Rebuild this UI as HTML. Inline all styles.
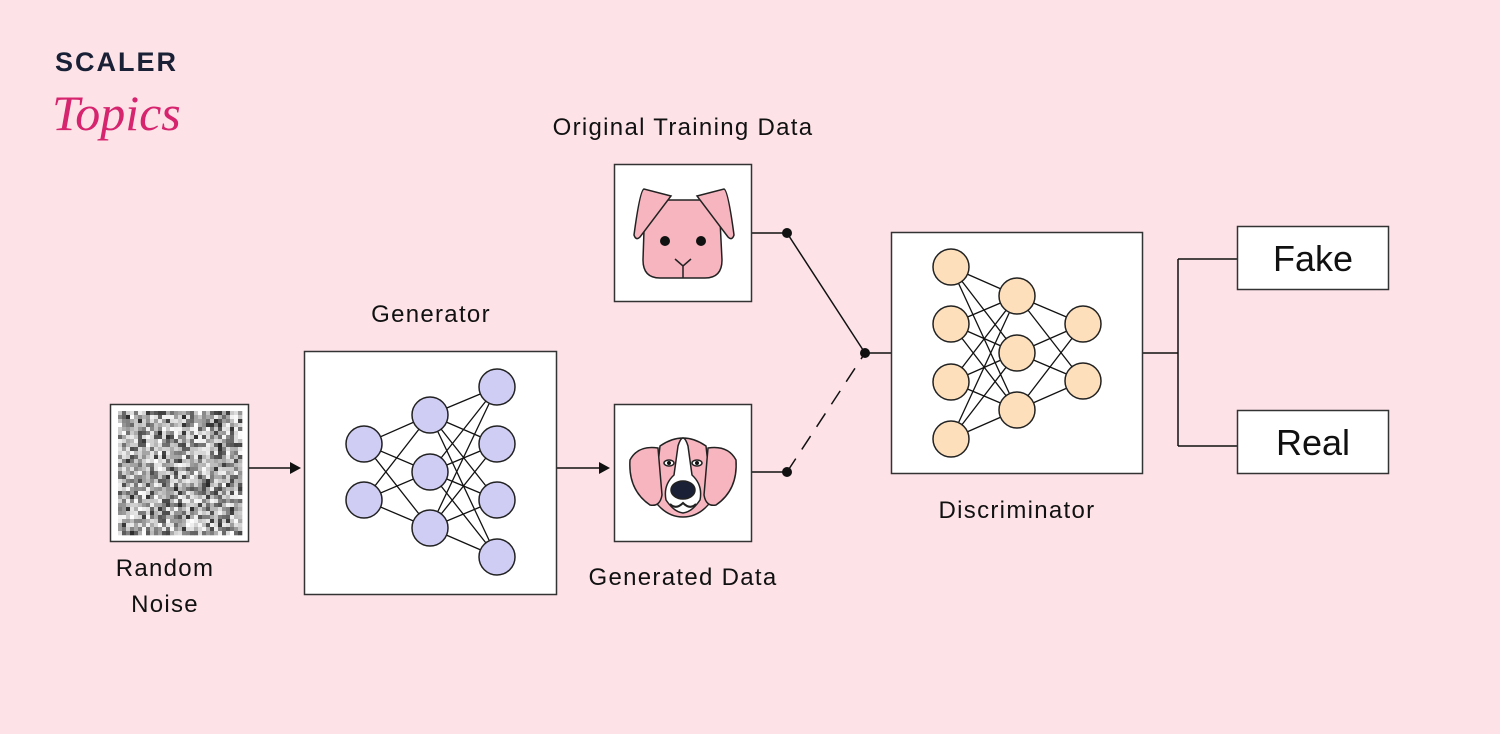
<!DOCTYPE html>
<html><head><meta charset="utf-8"><style>
html,body{margin:0;padding:0;background:#fde3e8;}
svg{display:block;}
text{font-family:"Liberation Sans","DejaVu Sans",sans-serif;fill:#111;}
.lb{letter-spacing:1.3px;}
</style></head><body>
<svg width="1500" height="734" viewBox="0 0 1500 734" xmlns="http://www.w3.org/2000/svg">
<rect width="1500" height="734" fill="#fde3e8"/>
<!-- logo -->
<text x="55" y="71" font-size="27" font-weight="bold" letter-spacing="2" style="fill:#1a2035">SCALER</text>
<text x="52" y="130" font-size="50" font-style="italic" style="fill:#d6246e;font-family:'Liberation Serif',serif">Topics</text>

<!-- noise box -->
<rect x="110.5" y="404.5" width="138" height="137" fill="#fff" stroke="#333" stroke-width="1.5"/>
<g id="noise"></g>
<!-- labels -->
<text class="lb" x="165" y="576" font-size="24" text-anchor="middle">Random</text>
<text class="lb" x="165" y="612" font-size="24" text-anchor="middle">Noise</text>
<text class="lb" x="431" y="322" font-size="24" text-anchor="middle">Generator</text>
<text class="lb" x="683" y="135" font-size="24" text-anchor="middle">Original Training Data</text>
<text class="lb" x="683" y="585" font-size="24" text-anchor="middle">Generated Data</text>
<text class="lb" x="1017" y="518" font-size="24" text-anchor="middle">Discriminator</text>

<!-- arrows -->
<g stroke="#111" stroke-width="1.5" fill="none">
<line x1="249" y1="468" x2="292" y2="468"/>
<line x1="556" y1="468" x2="601" y2="468"/>
<line x1="752" y1="233" x2="787" y2="233"/>
<line x1="787" y1="233" x2="865" y2="353"/>
<line x1="752" y1="472" x2="787" y2="472"/>
<line x1="787" y1="472" x2="865" y2="353" stroke-dasharray="16 11"/>
<line x1="865" y1="353" x2="891" y2="353"/>
<line x1="1143" y1="353" x2="1178" y2="353"/>
<line x1="1178" y1="259" x2="1178" y2="446"/>
<line x1="1178" y1="259" x2="1237" y2="259"/>
<line x1="1178" y1="446" x2="1237" y2="446"/>
</g>
<polygon points="301,468 290,462 290,474" fill="#111"/>
<polygon points="610,468 599,462 599,474" fill="#111"/>
<circle cx="787" cy="233" r="5" fill="#111"/>
<circle cx="865" cy="353" r="5" fill="#111"/>
<circle cx="787" cy="472" r="5" fill="#111"/>

<!-- generator -->
<rect x="304.5" y="351.5" width="252" height="243" fill="#fff" stroke="#333" stroke-width="1.5"/>
<g id="gen"></g>
<!-- discriminator -->
<rect x="891.5" y="232.5" width="251" height="241" fill="#fff" stroke="#333" stroke-width="1.5"/>
<g id="disc"></g>

<!-- dog boxes -->
<rect x="614.5" y="164.5" width="137" height="137" fill="#fff" stroke="#333" stroke-width="1.5"/>
<rect x="614.5" y="404.5" width="137" height="137" fill="#fff" stroke="#333" stroke-width="1.5"/>
<!-- simple dog -->
<g stroke="#222" stroke-width="1.5" fill="#f7b5bf">
<path d="M645,200 L719,200 L722,260 Q722,278 705,278 L660,278 Q643,278 643,260 Z"/>
<path d="M671,196 L644,189 Q640,190 634,235 Q636,241 640,237 Z"/>
<path d="M697,196 L724,189 Q728,190 734,235 Q732,241 728,237 Z"/>
<path d="M675,259 L683,266 L691,259 M683,266 L683,278" fill="none"/>
</g>
<circle cx="665" cy="241" r="5" fill="#111"/>
<circle cx="701" cy="241" r="5" fill="#111"/>
<!-- beagle -->
<g stroke="#222" stroke-width="1.5">
<path d="M660,446 Q683,430 706,446 L712,500 Q700,517 683,517 Q666,517 654,500 Z" fill="#f7b5bf"/>
<path d="M678,446 Q683,430 688,446 L692,475 Q703,485 700,500 Q692,512 683,513 Q674,512 666,500 Q663,485 674,475 Z" fill="#fff"/>
<path d="M658,448 Q638,445 630,460 Q628,490 650,505 Q660,507 662,495 Z" fill="#f7b5bf"/>
<path d="M708,448 Q728,445 736,460 Q738,490 716,505 Q706,507 704,495 Z" fill="#f7b5bf"/>
<ellipse cx="683" cy="490" rx="12" ry="9" fill="#1a2035"/>
<ellipse cx="669" cy="463" rx="5" ry="3" fill="#fff"/>
<ellipse cx="697" cy="463" rx="5" ry="3" fill="#fff"/>
<path d="M670,504 Q676,510 683,503 Q690,510 696,504" fill="none" stroke-width="2"/>
</g>
<circle cx="669" cy="463" r="2" fill="#111"/>
<circle cx="697" cy="463" r="2" fill="#111"/>

<!-- outputs -->
<rect x="1237.5" y="226.5" width="151" height="63" fill="#fff" stroke="#333" stroke-width="1.5"/>
<rect x="1237.5" y="410.5" width="151" height="63" fill="#fff" stroke="#333" stroke-width="1.5"/>
<text x="1313" y="271" font-size="36" text-anchor="middle">Fake</text>
<text x="1313" y="455" font-size="36" text-anchor="middle">Real</text>
</svg>
<script>
var NS="http://www.w3.org/2000/svg";
function el(p,t,a){var e=document.createElementNS(NS,t);for(var k in a)e.setAttribute(k,a[k]);p.appendChild(e);return e;}
var s=12345;function rnd(){s=(s*1103515245+12345)%2147483648;return s/2147483648;}
var ng=document.getElementById("noise");
var n=31,cs=124/n;
for(var i=0;i<n;i++)for(var j=0;j<n;j++){var v=Math.floor(40+Math.pow(rnd(),0.7)*215);
el(ng,"rect",{x:118+i*cs,y:411+j*cs,width:cs+0.3,height:cs+0.3,fill:"rgb("+v+","+v+","+v+")"});}
function net(g,cols,fill){
 for(var c=0;c<cols.length-1;c++)for(var a=0;a<cols[c].ys.length;a++)for(var b=0;b<cols[c+1].ys.length;b++)
  el(g,"line",{x1:cols[c].x,y1:cols[c].ys[a],x2:cols[c+1].x,y2:cols[c+1].ys[b],stroke:"#111","stroke-width":1.3});
 cols.forEach(function(col){col.ys.forEach(function(y){el(g,"circle",{cx:col.x,cy:y,r:18,fill:fill,stroke:"#222","stroke-width":1.5});});});
}
net(document.getElementById("gen"),[{x:364,ys:[444,500]},{x:430,ys:[415,472,528]},{x:497,ys:[387,444,500,557]}],"#d0cdf5");
net(document.getElementById("disc"),[{x:951,ys:[267,324,382,439]},{x:1017,ys:[296,353,410]},{x:1083,ys:[324,381]}],"#fde0bb");
</script>
</body></html>
